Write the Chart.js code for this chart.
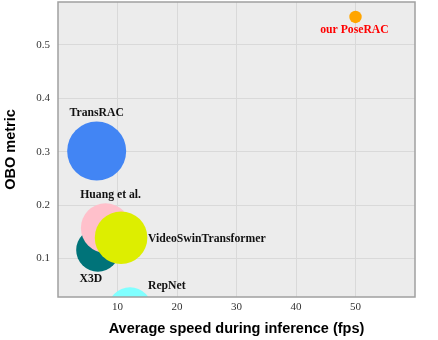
<!DOCTYPE html>
<html>
<head>
<meta charset="utf-8">
<script src="https://cdn.jsdelivr.net/npm/chart.js@4"></script>
<style>
html,body{margin:0;padding:0;background:#fff;}
#wrap{width:438px;height:340px;}
</style>
</head>
<body>
<div id="wrap"><canvas id="chart" width="438" height="340"></canvas></div>
<script>
// Données
const methods=["TransRAC","X3D","Huang et al.","VideoSwinTransformer","RepNet","our PoseRAC"];
const speed=[6.5,6.7,8.0,10.6,12.1,50];
const obo=[0.301,0.116,0.157,0.139,0.005,0.552];
const bubbleSize=[29.5,21.7,24.7,26.3,22,6.2];
const xTicks=[10,20,30,40,50];
const yTicks=[0.1,0.2,0.3,0.4,0.5];

const colors=["#4285F4","#007379","#FFC0CB","#DDEE00","#80FFFF","#FFA500"];
// label offsets (px) : [dx, dy, align]
const labelPos=[[0,-38,"center"],[-7,29,"center"],[5,-33,"center"],[27,1,"left"],[18,-23,"left"],[-1,13,"center"]];

const serif="'Liberation Serif','Times New Roman',serif";
const sans="'Liberation Sans',Arial,sans-serif";

// ---------- Plugins ----------
const areaBg={
  id:"areaBg",
  beforeDraw(c){
    const {ctx,chartArea:a}=c;
    ctx.save(); ctx.fillStyle="#ececec"; ctx.fillRect(a.left,a.top,a.right-a.left,a.bottom-a.top); ctx.restore();
  },
  afterDraw(c){
    const {ctx,chartArea:a}=c;
    ctx.save(); ctx.strokeStyle="#a0a0a0"; ctx.lineWidth=1.5;
    ctx.strokeRect(a.left,a.top,a.right-a.left,a.bottom-a.top); ctx.restore();
  }
};

const bubbleLabels={
  id:"bubbleLabels",
  afterDatasetsDraw(c){
    const {ctx,scales:{x,y}}=c;
    ctx.save();
    ctx.font="bold 11.7px "+serif; ctx.textBaseline="middle";
    methods.forEach((m,i)=>{
      const [dx,dy,al]=labelPos[i];
      ctx.textAlign=al;
      ctx.fillStyle=i===5?"#ff0000":"#111";
      ctx.fillText(m,x.getPixelForValue(speed[i])+dx,y.getPixelForValue(obo[i])+dy);
    });
    ctx.restore();
  }
};

// ---------- Chart ----------
// order: le premier dataset est dessiné en premier (donc dessous)
const datasets=methods.map((m,i)=>({
  label:m,
  data:[{x:speed[i],y:obo[i],r:bubbleSize[i]}],
  backgroundColor:colors[i],
  borderWidth:0,
  hoverBorderWidth:0,
  order:methods.length-i
}));

new Chart(document.getElementById("chart"),{
  type:"bubble",
  data:{datasets},
  options:{
    responsive:false,
    animation:false,
    layout:{autoPadding:false,padding:{left:0,right:23,top:2,bottom:0}},
    plugins:{legend:{display:false},tooltip:{enabled:false}},
    scales:{
      x:{
        type:"linear",min:0,max:60,
        afterBuildTicks:s=>{s.ticks=xTicks.map(v=>({value:v}));},
        afterFit:s=>{s.height=43; s.paddingLeft=0; s.paddingRight=0;},
        grid:{color:"#d9d9d9",drawTicks:false},
        border:{display:false},
        ticks:{color:"#333",padding:4,font:{family:serif,size:11}},
        title:{display:true,text:"Average speed during inference (fps)",color:"#000",padding:{top:4,bottom:2},font:{family:sans,size:14.5,weight:"bold"}}
      },
      y:{
        type:"linear",min:0.028,max:0.58,
        afterBuildTicks:s=>{s.ticks=yTicks.map(v=>({value:v}));},
        afterFit:s=>{s.width=58; s.paddingTop=0; s.paddingBottom=0;},
        grid:{color:"#d9d9d9",drawTicks:false},
        border:{display:false},
        ticks:{color:"#333",padding:8,font:{family:serif,size:11},callback:v=>v.toFixed(1)},
        title:{display:true,text:"OBO metric",color:"#000",padding:{top:2,bottom:0},font:{family:sans,size:14.5,weight:"bold"}}
      }
    }
  },
  plugins:[areaBg,bubbleLabels]
});
</script>
</body>
</html>
